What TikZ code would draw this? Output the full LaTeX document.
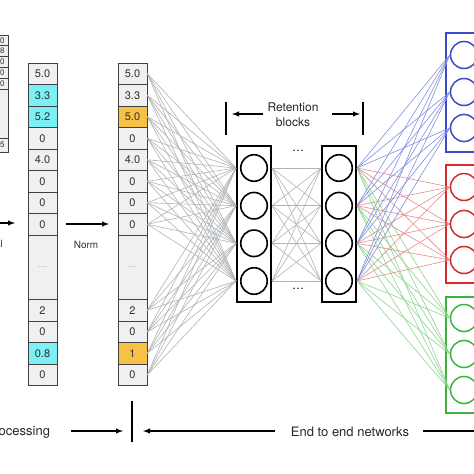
\documentclass[tikz,border=0pt]{standalone}
\usepackage{fontspec}
\setmainfont{TeX Gyre Heros}
\definecolor{cyanhl}{HTML}{7DF0F5}
\definecolor{orangehl}{HTML}{F6C146}
\definecolor{linkgray}{HTML}{B0B4B8}
\definecolor{grpblue}{HTML}{3A4BC8}
\definecolor{grpred}{HTML}{D42A2A}
\definecolor{grpgreen}{HTML}{3CB43C}
\definecolor{lnkblue}{HTML}{8290E2}
\definecolor{lnkred}{HTML}{E48C8C}
\definecolor{lnkgreen}{HTML}{8CD68C}

\begin{document}
\begin{tikzpicture}[x=1pt,y=-1pt]
\tikzstyle{cell}=[
	draw=black!75,
	fill=black!6,
	line width=0.8pt,
	minimum width=29pt,
	inner sep=0pt,
	text=black!80,
	font=\fontsize{11}{13}\selectfont ]
\tikzstyle{smallcell}=[cell, minimum width=18pt, font=\fontsize{8}{9}\selectfont]
\tikzstyle{plain}=[]
\tikzstyle{hicyan}=[fill=cyanhl]
\tikzstyle{hiorange}=[fill=orangehl]
\tikzstyle{dotcell}=[text=black!45, font=\fontsize{8}{8}\selectfont]
\tikzstyle{block}=[draw, line width=2pt, minimum width=34pt, minimum height=156pt, inner sep=0pt]
\tikzstyle{unit}=[draw, circle, line width=1.6pt, minimum size=26.5pt, inner sep=0pt]
\tikzstyle{outunit}=[unit, line width=1.5pt, minimum size=27pt]
\tikzstyle{group}=[draw, line width=1.5pt, minimum width=44pt, inner sep=0pt]
\tikzstyle{link}=[draw=linkgray, line width=0.6pt]
\tikzstyle{arr}=[-latex, line width=1.4pt]
\tikzstyle{bar}=[line width=1.5pt]
\tikzstyle{lbl}=[font=\fontsize{10}{12}\selectfont, text=black!80]
\tikzstyle{caption}=[font=\fontsize{13}{15}\selectfont, text=black!85]

\useasboundingbox (0,0) rectangle (474,474);
\fill[white] (0,0) rectangle (474,474);
\clip (0,0) rectangle (474,474);

\foreach \n/\y/\h/\v in {1/40.4/10.8/1.0, 2/51.2/10.8/0.8, 3/62/10.8/1.0, 4/72.8/10.8/1.0,
	5/83.6/10.8/1.0, 6/113.5/49/{}, 7/145/14/0.5}
	\node[smallcell, minimum height=\h pt] (z\n) at (-1,\y) {\v};

\foreach \n/\y/\h/\v/\s in {1/73.75/21.5/5.0/plain, 2/95.25/21.5/3.3/hicyan, 3/116.75/21.5/5.2/hicyan,
	4/138.25/21.5/0/plain, 5/159.75/21.5/4.0/plain, 6/181.25/21.5/0/plain, 7/202.75/21.5/0/plain,
	8/224.25/21.5/0/plain, 9/267.25/64.5/\dots/dotcell, 10/310.25/21.5/2/plain, 11/331.75/21.5/0/plain,
	12/353.25/21.5/0.8/hicyan, 13/374.75/21.5/0/plain}
	\node[cell, minimum height=\h pt, \s] (a\n) at (42.5,\y) {\v};

\foreach \n/\y/\h/\v/\s in {1/73.75/21.5/5.0/plain, 2/95.25/21.5/3.3/plain, 3/116.75/21.5/5.0/hiorange,
	4/138.25/21.5/0/plain, 5/159.75/21.5/4.0/plain, 6/181.25/21.5/0/plain, 7/202.75/21.5/0/plain,
	8/224.25/21.5/0/plain, 9/267.25/64.5/\dots/dotcell, 10/310.25/21.5/2/plain, 11/331.75/21.5/0/plain,
	12/353.25/21.5/1/hiorange, 13/374.75/21.5/0/plain}
	\node[cell, minimum height=\h pt, \s] (b\n) at (132.5,\y) {\v};

\node[block] (blk1) at (254,224) {};
\node[block] (blk2) at (339,224) {};
\foreach \i/\y in {1/168, 2/205.7, 3/243.3, 4/281} {
	\node[unit] (u1\i) at (254,\y) {};
	\node[unit] (u2\i) at (339,\y) {};
}
\node[font=\fontsize{12}{12}\selectfont] (dtop) at (298,151) {\dots};
\node[font=\fontsize{12}{12}\selectfont] (dbot) at (298,289) {\dots};

\node[group, draw=grpblue, minimum height=119pt] (gblue) at (468,92.5) {};
\node[group, draw=grpred, minimum height=118pt] (gred) at (468,224) {};
\node[group, draw=grpgreen, minimum height=116pt] (ggreen) at (468,355) {};
\foreach \n/\yb/\yr/\yg in {1/55/187/318, 2/92/224/354, 3/128/260/390} {
	\node[outunit, draw=grpblue] (ob\n) at (464,\yb) {};
	\node[outunit, draw=grpred] (or\n) at (464,\yr) {};
	\node[outunit, draw=grpgreen] (og\n) at (464,\yg) {};
}

\foreach \i in {1,...,8,10,11,12,13}
	\foreach \j in {1,...,4}
		\draw[link] (b\i.east) -- (blk1.west |- u1\j);
\foreach \i in {1,...,4}
	\foreach \j in {1,...,4}
		\draw[link] (blk1.east |- u1\i) -- (blk2.west |- u2\j);
\foreach \i in {1,...,4}
	\foreach \j in {1,2,3} {
		\draw[link, draw=lnkblue] (blk2.east |- u2\i) -- (ob\j.west);
		\draw[link, draw=lnkred] (blk2.east |- u2\i) -- (or\j.west);
		\draw[link, draw=lnkgreen] (blk2.east |- u2\i) -- (og\j.west);
	}

\coordinate (inL) at (-20,223);
\coordinate (inR) at (15,223);
\draw[arr] (inL) -- (inR);
\node[lbl, anchor=east] (sig) at (6.5,245) {Signal};
\coordinate (normL) at (66,224);
\coordinate (normR) at (109,224);
\draw[arr] (normL) -- (normR);
\node[lbl] (norm) at (86,245) {Norm};

\node[font=\fontsize{12}{15}\selectfont, text=black!85, align=center] (rtxt) at (293,115) {Retention\\blocks};
\coordinate (rbarL1) at (226,102);
\coordinate (rbarL2) at (226,135);
\coordinate (rbarR1) at (363,102);
\coordinate (rbarR2) at (363,135);
\draw[bar] (rbarL1) -- (rbarL2);
\draw[bar] (rbarR1) -- (rbarR2);
\coordinate (rla) at (263,114);
\coordinate (rlb) at (232,114);
\coordinate (rra) at (332,114);
\coordinate (rrb) at (360,114);
\draw[arr] (rla) -- (rlb);
\draw[arr] (rra) -- (rrb);

\node[caption, anchor=east] (pre) at (53.5,432) {Preprocessing};
\node[caption] (e2e) at (350,432) {End to end networks};
\coordinate (sepT) at (132,401);
\coordinate (sepB) at (132,442);
\draw[bar] (sepT) -- (sepB);
\coordinate (pa) at (71,431);
\coordinate (pb) at (123,431);
\coordinate (ea) at (275,431);
\coordinate (eb) at (143,431);
\coordinate (fa) at (423,431);
\coordinate (fb) at (495,431);
\draw[arr] (pa) -- (pb);
\draw[arr] (ea) -- (eb);
\draw[arr] (fa) -- (fb);
\end{tikzpicture}
\end{document}
